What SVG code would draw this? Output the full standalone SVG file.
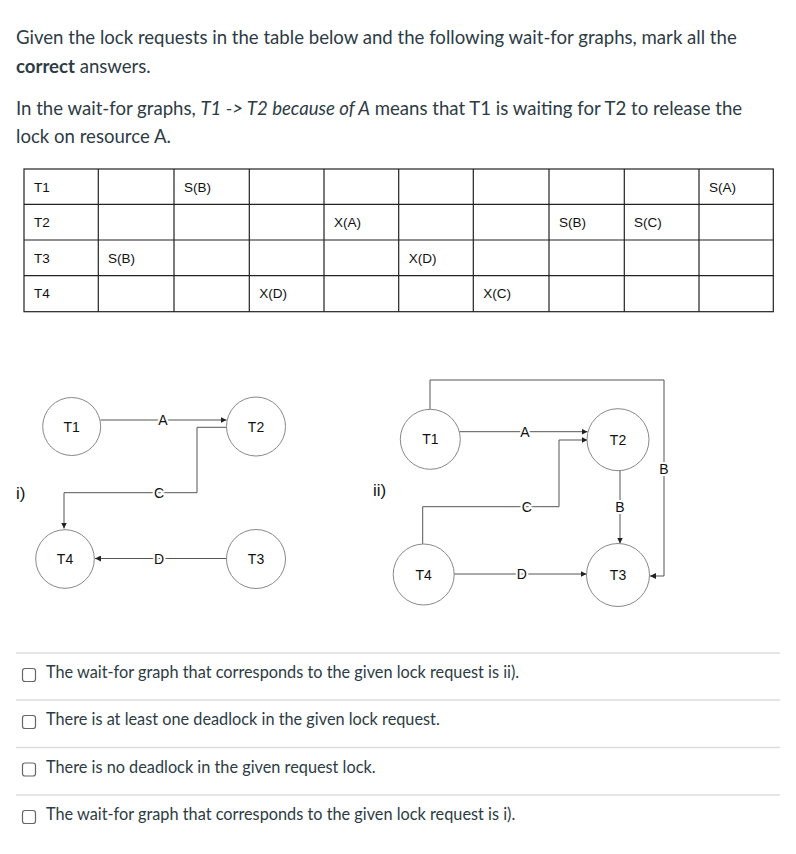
<svg xmlns="http://www.w3.org/2000/svg" width="796" height="854" viewBox="0 0 796 854">
<defs>
<style>
.q{font-family:Lato,"Noto Sans",sans-serif;font-size:18.6px;fill:#2d3b45}
.o{font-family:Lato,"Noto Sans",sans-serif;font-size:16.3px;fill:#2d3b45}
.t{font-family:"Liberation Sans",Arial,sans-serif;font-size:13.5px;fill:#111}
.n{font-family:"Liberation Sans",Arial,sans-serif;font-size:14px;fill:#111;text-anchor:middle;dominant-baseline:central}
.l{font-family:"Liberation Sans",Arial,sans-serif;font-size:14px;fill:#111;text-anchor:middle;dominant-baseline:central;paint-order:stroke;stroke:#fff;stroke-width:4px}
.g{font-family:"Liberation Sans",Arial,sans-serif;font-size:17px;fill:#111}
.grid{fill:none;stroke:#222;stroke-width:1.2}
.node circle{fill:#fff;stroke:#888;stroke-width:1}
.e{fill:none;stroke:#555;stroke-width:1}
.sep{stroke:#ddd;stroke-width:1.5}
.cb{fill:#fff;stroke:#666;stroke-width:1.2}
</style>
<marker id="ar" viewBox="0 0 10 10" refX="10" refY="5" markerWidth="6" markerHeight="6" orient="auto" markerUnits="userSpaceOnUse">
<path d="M0,0 L10,5 L0,10 z" fill="#222"/>
</marker>
</defs>
<rect width="796" height="854" fill="#fff"/>

<g id="question">
<text class="q" x="16" y="44">Given the lock requests in the table below and the following wait-for graphs, mark all the</text>
<text class="q" x="16" y="73"><tspan font-weight="bold">correct</tspan> answers.</text>
<text class="q" x="16" y="115">In the wait-for graphs, <tspan font-style="italic">T1 -&gt; T2 because of A</tspan> means that T1 is waiting for T2 to release the</text>
<text class="q" x="16" y="143">lock on resource A.</text>
</g>

<g id="table">
<rect class="grid" x="24" y="169" width="749.3" height="142.7"/>
<path class="grid" d="M24,204.3H773.3M24,240H773.3M24,275.7H773.3M98.3,169V311.7M174,169V311.7M249.3,169V311.7M324,169V311.7M398.7,169V311.7M473.3,169V311.7M549,169V311.7M624.3,169V311.7M699,169V311.7"/>
<text class="t" x="34" y="191.5">T1</text>
<text class="t" x="34" y="227">T2</text>
<text class="t" x="34" y="262.7">T3</text>
<text class="t" x="34" y="298.4">T4</text>
<text class="t" x="184" y="191.5">S(B)</text>
<text class="t" x="709" y="191.5">S(A)</text>
<text class="t" x="334" y="227">X(A)</text>
<text class="t" x="559" y="227">S(B)</text>
<text class="t" x="634" y="227">S(C)</text>
<text class="t" x="108" y="262.7">S(B)</text>
<text class="t" x="408.7" y="262.7">X(D)</text>
<text class="t" x="259.3" y="298.4">X(D)</text>
<text class="t" x="483.3" y="298.4">X(C)</text>
</g>

<g id="connectors">
<path class="e" d="M100.5,420H226.5" marker-end="url(#ar)"/>
<path class="e" d="M226.5,427.3H197V492.7H64V528.5" marker-end="url(#ar)"/>
<path class="e" d="M226.5,558.5H95" marker-end="url(#ar)"/>
<path class="e" d="M459.3,431.7H587.5" marker-end="url(#ar)"/>
<path class="e" d="M422.7,544V506.7H559V440H587.5" marker-end="url(#ar)"/>
<path class="e" d="M620,470.6V543.5" marker-end="url(#ar)"/>
<path class="e" d="M430,409.3V380H664V576H650" marker-end="url(#ar)"/>
<path class="e" d="M454,574H586.5" marker-end="url(#ar)"/>
<text class="l" x="163" y="420">A</text>
<text class="l" x="159" y="492.7">C</text>
<text class="l" x="159" y="558.5">D</text>
<text class="l" x="525" y="431.7">A</text>
<text class="l" x="526.7" y="506.7">C</text>
<text class="l" x="620" y="506.7">B</text>
<text class="l" x="664" y="469">B</text>
<text class="l" x="521.7" y="574">D</text>
</g>

<g id="i-T1" class="node"><circle cx="71.7" cy="426.5" r="29"/><text class="n" x="71.7" y="426.5">T1</text></g>
<g id="i-T2" class="node"><circle cx="256" cy="426.5" r="29.5"/><text class="n" x="256" y="426.5">T2</text></g>
<g id="i-T4" class="node"><circle cx="65" cy="559" r="29.3"/><text class="n" x="65" y="559">T4</text></g>
<g id="i-T3" class="node"><circle cx="256" cy="559" r="29.5"/><text class="n" x="256" y="559">T3</text></g>
<text class="g" x="16" y="499">i)</text>

<g id="ii-T1" class="node"><circle cx="430.3" cy="439.3" r="30"/><text class="n" x="430.3" y="439.3">T1</text></g>
<g id="ii-T2" class="node"><circle cx="618" cy="439.7" r="31"/><text class="n" x="618" y="439.7">T2</text></g>
<g id="ii-T4" class="node"><circle cx="423.7" cy="574.5" r="30.5"/><text class="n" x="423.7" y="574.5">T4</text></g>
<g id="ii-T3" class="node"><circle cx="618" cy="575" r="31.5"/><text class="n" x="618" y="575">T3</text></g>
<text class="g" x="373" y="496">ii)</text>

<g id="options">
<line class="sep" x1="16" y1="653" x2="780" y2="653"/>
<line class="sep" x1="16" y1="700" x2="780" y2="700"/>
<line class="sep" x1="16" y1="747.5" x2="780" y2="747.5"/>
<line class="sep" x1="16" y1="795" x2="780" y2="795"/>
<rect class="cb" x="22.5" y="668.5" width="13" height="13" rx="2.5"/>
<rect class="cb" x="22.5" y="715.5" width="13" height="13" rx="2.5"/>
<rect class="cb" x="22.5" y="763" width="13" height="13" rx="2.5"/>
<rect class="cb" x="22.5" y="810.5" width="13" height="13" rx="2.5"/>
<text class="o" x="46" y="678">The wait-for graph that corresponds to the given lock request is ii).</text>
<text class="o" x="46" y="725">There is at least one deadlock in the given lock request.</text>
<text class="o" x="46" y="772.5">There is no deadlock in the given request lock.</text>
<text class="o" x="46" y="820">The wait-for graph that corresponds to the given lock request is i).</text>
</g>
</svg>
